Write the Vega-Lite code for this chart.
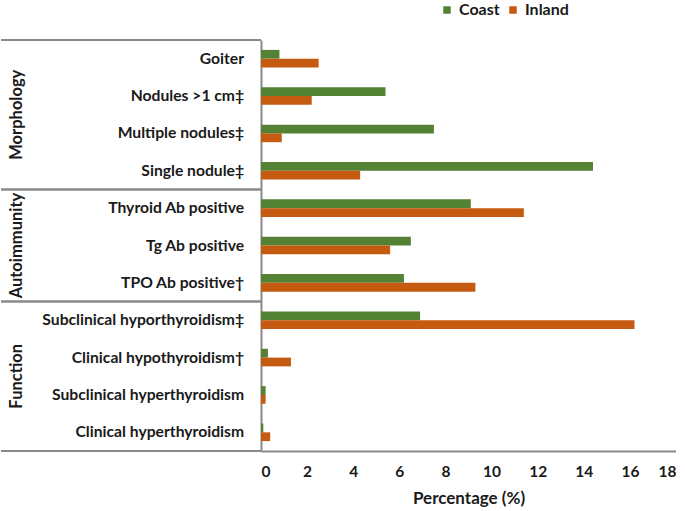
{
  "$schema": "https://vega.github.io/schema/vega-lite/v6.json",
  "autosize": {"type": "pad"},
  "padding": {"left": 0, "top": 2, "right": 0, "bottom": 0},
  "bounds": "flush",
  "spacing": 0,
  "config": {"view": {"stroke": null}, "font": "Lato"},
  "datasets": {
    "values": [
      {"category": "Goiter", "group": "Morphology", "region": "Coast", "value": 0.8},
      {"category": "Goiter", "group": "Morphology", "region": "Inland", "value": 2.5},
      {"category": "Nodules >1 cm‡", "group": "Morphology", "region": "Coast", "value": 5.4},
      {"category": "Nodules >1 cm‡", "group": "Morphology", "region": "Inland", "value": 2.2},
      {"category": "Multiple nodules‡", "group": "Morphology", "region": "Coast", "value": 7.5},
      {"category": "Multiple nodules‡", "group": "Morphology", "region": "Inland", "value": 0.9},
      {"category": "Single nodule‡", "group": "Morphology", "region": "Coast", "value": 14.4},
      {"category": "Single nodule‡", "group": "Morphology", "region": "Inland", "value": 4.3},
      {"category": "Thyroid Ab positive", "group": "Autoimmunity", "region": "Coast", "value": 9.1},
      {"category": "Thyroid Ab positive", "group": "Autoimmunity", "region": "Inland", "value": 11.4},
      {"category": "Tg Ab positive", "group": "Autoimmunity", "region": "Coast", "value": 6.5},
      {"category": "Tg Ab positive", "group": "Autoimmunity", "region": "Inland", "value": 5.6},
      {"category": "TPO Ab positive†", "group": "Autoimmunity", "region": "Coast", "value": 6.2},
      {"category": "TPO Ab positive†", "group": "Autoimmunity", "region": "Inland", "value": 9.3},
      {"category": "Subclinical hyporthyroidism‡", "group": "Function", "region": "Coast", "value": 6.9},
      {"category": "Subclinical hyporthyroidism‡", "group": "Function", "region": "Inland", "value": 16.2},
      {"category": "Clinical hypothyroidism†", "group": "Function", "region": "Coast", "value": 0.3},
      {"category": "Clinical hypothyroidism†", "group": "Function", "region": "Inland", "value": 1.3},
      {"category": "Subclinical hyperthyroidism", "group": "Function", "region": "Coast", "value": 0.2},
      {"category": "Subclinical hyperthyroidism", "group": "Function", "region": "Inland", "value": 0.2},
      {"category": "Clinical hyperthyroidism", "group": "Function", "region": "Coast", "value": 0.1},
      {"category": "Clinical hyperthyroidism", "group": "Function", "region": "Inland", "value": 0.4}
    ],
    "groups": [
      {"group": "Morphology", "first": "Goiter", "last": "Single nodule‡", "anchor": "Nodules >1 cm‡", "pos": "end"},
      {"group": "Autoimmunity", "first": "Thyroid Ab positive", "last": "TPO Ab positive†", "anchor": "Tg Ab positive", "pos": "middle"},
      {"group": "Function", "first": "Subclinical hyporthyroidism‡", "last": "Clinical hyperthyroidism", "anchor": "Clinical hypothyroidism†", "pos": "end"}
    ]
  },
  "hconcat": [
    {
      "width": 260,
      "height": 411,
      "layer": [
        {
          "data": {"name": "values"},
          "transform": [{"filter": "datum.region === 'Coast'"}],
          "mark": {"type": "text", "align": "right", "baseline": "middle", "font": "Lato", "fontWeight": "bold", "fontSize": 15.7, "color": "#1a1a1a"},
          "encoding": {
            "y": {"field": "category", "type": "nominal", "scale": {"domain": ["Goiter", "Nodules >1 cm‡", "Multiple nodules‡", "Single nodule‡", "Thyroid Ab positive", "Tg Ab positive", "TPO Ab positive†", "Subclinical hyporthyroidism‡", "Clinical hypothyroidism†", "Subclinical hyperthyroidism", "Clinical hyperthyroidism"], "paddingInner": 0, "paddingOuter": 0}, "axis": null},
            "x": {"datum": 0.935, "type": "quantitative", "scale": {"domain": [0, 1], "nice": false, "zero": false}, "axis": null},
            "text": {"field": "category"}
          }
        },
        {
          "data": {"name": "groups"},
          "mark": {"type": "rule", "color": "#898989", "strokeWidth": 2},
          "encoding": {
            "y": {"field": "first", "type": "nominal", "bandPosition": 0, "scale": {"domain": ["Goiter", "Nodules >1 cm‡", "Multiple nodules‡", "Single nodule‡", "Thyroid Ab positive", "Tg Ab positive", "TPO Ab positive†", "Subclinical hyporthyroidism‡", "Clinical hypothyroidism†", "Subclinical hyperthyroidism", "Clinical hyperthyroidism"], "paddingInner": 0, "paddingOuter": 0}, "axis": null}
          }
        },
        {
          "data": {"name": "groups"},
          "mark": {"type": "rule", "color": "#898989", "strokeWidth": 2},
          "encoding": {
            "y": {"field": "last", "type": "nominal", "bandPosition": 1, "scale": {"domain": ["Goiter", "Nodules >1 cm‡", "Multiple nodules‡", "Single nodule‡", "Thyroid Ab positive", "Tg Ab positive", "TPO Ab positive†", "Subclinical hyporthyroidism‡", "Clinical hypothyroidism†", "Subclinical hyperthyroidism", "Clinical hyperthyroidism"], "paddingInner": 0, "paddingOuter": 0}, "axis": null}
          }
        },
        {
          "data": {"name": "groups"},
          "transform": [{"filter": "datum.pos === 'end'"}],
          "mark": {"type": "text", "angle": 270, "align": "center", "baseline": "middle", "font": "Lato", "fontWeight": "bold", "fontSize": 16.5, "color": "#1a1a1a"},
          "encoding": {
            "y": {"field": "anchor", "type": "nominal", "bandPosition": 1, "scale": {"domain": ["Goiter", "Nodules >1 cm‡", "Multiple nodules‡", "Single nodule‡", "Thyroid Ab positive", "Tg Ab positive", "TPO Ab positive†", "Subclinical hyporthyroidism‡", "Clinical hypothyroidism†", "Subclinical hyperthyroidism", "Clinical hyperthyroidism"], "paddingInner": 0, "paddingOuter": 0}, "axis": null},
            "x": {"datum": 0.062, "type": "quantitative", "scale": {"domain": [0, 1], "nice": false, "zero": false}, "axis": null},
            "text": {"field": "group"}
          }
        },
        {
          "data": {"name": "groups"},
          "transform": [{"filter": "datum.pos === 'middle'"}],
          "mark": {"type": "text", "angle": 270, "align": "center", "baseline": "middle", "font": "Lato", "fontWeight": "bold", "fontSize": 16.5, "color": "#1a1a1a"},
          "encoding": {
            "y": {"field": "anchor", "type": "nominal", "bandPosition": 0.5, "scale": {"domain": ["Goiter", "Nodules >1 cm‡", "Multiple nodules‡", "Single nodule‡", "Thyroid Ab positive", "Tg Ab positive", "TPO Ab positive†", "Subclinical hyporthyroidism‡", "Clinical hypothyroidism†", "Subclinical hyperthyroidism", "Clinical hyperthyroidism"], "paddingInner": 0, "paddingOuter": 0}, "axis": null},
            "x": {"datum": 0.062, "type": "quantitative", "scale": {"domain": [0, 1], "nice": false, "zero": false}, "axis": null},
            "text": {"field": "group"}
          }
        }
      ]
    },
    {
      "width": 415,
      "height": 411,
      "data": {"name": "values"},
      "mark": {"type": "bar"},
      "encoding": {
        "y": {
          "field": "category", "type": "nominal",
          "scale": {"domain": ["Goiter", "Nodules >1 cm‡", "Multiple nodules‡", "Single nodule‡", "Thyroid Ab positive", "Tg Ab positive", "TPO Ab positive†", "Subclinical hyporthyroidism‡", "Clinical hypothyroidism†", "Subclinical hyperthyroidism", "Clinical hyperthyroidism"], "paddingInner": 0.53, "paddingOuter": 0.265},
          "axis": {"labels": false, "ticks": false, "title": null, "domainColor": "#898989", "domainWidth": 2}
        },
        "yOffset": {"field": "region", "type": "nominal", "scale": {"domain": ["Coast", "Inland"], "paddingInner": 0, "paddingOuter": 0}},
        "x": {
          "field": "value", "type": "quantitative",
          "scale": {"domain": [0, 18], "nice": false},
          "axis": {"values": [0, 2, 4, 6, 8, 10, 12, 14, 16, 18], "grid": false, "ticks": false, "tickSize": 0, "domainColor": "#898989", "domainWidth": 2, "labelFont": "Lato", "labelFontWeight": "bold", "labelFontSize": 15.5, "labelColor": "#1a1a1a", "labelPadding": 13, "title": "Percentage (%)", "titleFont": "Lato", "titleFontSize": 17, "titleFontWeight": "bold", "titleColor": "#1a1a1a", "titlePadding": 11}
        },
        "color": {
          "field": "region", "type": "nominal",
          "scale": {"domain": ["Coast", "Inland"], "range": ["#548235", "#C55A11"]},
          "legend": {"orient": "none", "direction": "horizontal", "legendX": 438, "legendY": -38, "title": null, "symbolType": "square", "symbolSize": 56, "symbolStrokeWidth": 0, "labelFont": "Lato", "labelFontWeight": "bold", "labelFontSize": 16, "labelColor": "#1a1a1a", "columnPadding": 5}
        }
      }
    }
  ]
}
